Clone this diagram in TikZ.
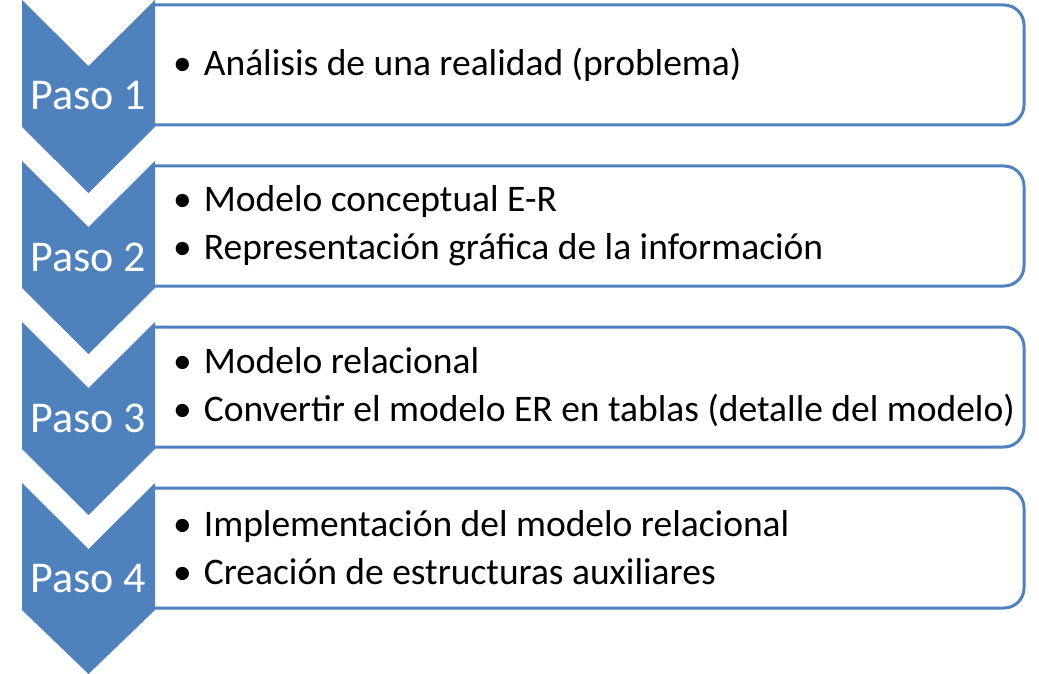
\documentclass[tikz,border=0pt]{standalone}
\usepackage{fontspec}
\setmainfont{Carlito}
\usepackage{tikz}
\usetikzlibrary{positioning}
\definecolor{pasoblue}{HTML}{4F81BD}
\newcommand{\itembul}{\textbullet\hspace{12pt}}

\begin{document}
\begin{tikzpicture}[x=1pt, y=-1pt,
        stepbox/.style={draw=pasoblue, line width=3pt, rounded corners=20pt},
        arrowshape/.style={fill=pasoblue},
        pasotext/.style={text=white, font=\fontsize{44}{50}\selectfont},
        itemtext/.style={anchor=west, align=left, inner sep=0pt, font=\fontsize{37.5}{48}\selectfont}]
        \useasboundingbox (0,0) rectangle (1039,674);

        % paso 1
        \draw[stepbox] (155,5) -- (1024,5) -- (1024,125) -- (155,125);
        \fill[arrowshape] (22,0) -- (88.5,66) -- (155,0) -- (155,127) -- (88.5,193) -- (22,127) -- cycle;
        \node[pasotext] at (88.5,96) (p1) {Paso 1};
        \node[itemtext] at (173,65) (t1) {\itembul Análisis de una realidad (problema)};

        % paso 2
        \draw[stepbox] (155,166) -- (1024,166) -- (1024,286) -- (155,286);
        \fill[arrowshape] (22,161) -- (88.5,227) -- (155,161) -- (155,288) -- (88.5,354) -- (22,288) -- cycle;
        \node[pasotext] at (88.5,257) (p2) {Paso 2};
        \node[itemtext] at (173,226) (t2) {\itembul Modelo conceptual E-R\\
            \itembul Representación gráfica de la información};

        % paso 3
        \draw[stepbox] (155,327) -- (1024,327) -- (1024,447) -- (155,447);
        \fill[arrowshape] (22,322) -- (88.5,388) -- (155,322) -- (155,449) -- (88.5,515) -- (22,449) -- cycle;
        \node[pasotext] at (88.5,418) (p3) {Paso 3};
        \node[itemtext] at (173,387) (t3) {\itembul Modelo relacional\\
            \itembul Convertir el modelo ER en tablas (detalle del modelo)};

        % paso 4
        \draw[stepbox] (155,488) -- (1024,488) -- (1024,608) -- (155,608);
        \fill[arrowshape] (22,483) -- (88.5,549) -- (155,483) -- (155,610) -- (88.5,674) -- (22,610) -- cycle;
        \node[pasotext] at (88.5,579) (p4) {Paso 4};
        \node[itemtext] at (173,548) (t4) {\itembul Implementación del modelo relacional\\
            \itembul Creación de estructuras auxiliares};
    \end{tikzpicture}
\end{document}
